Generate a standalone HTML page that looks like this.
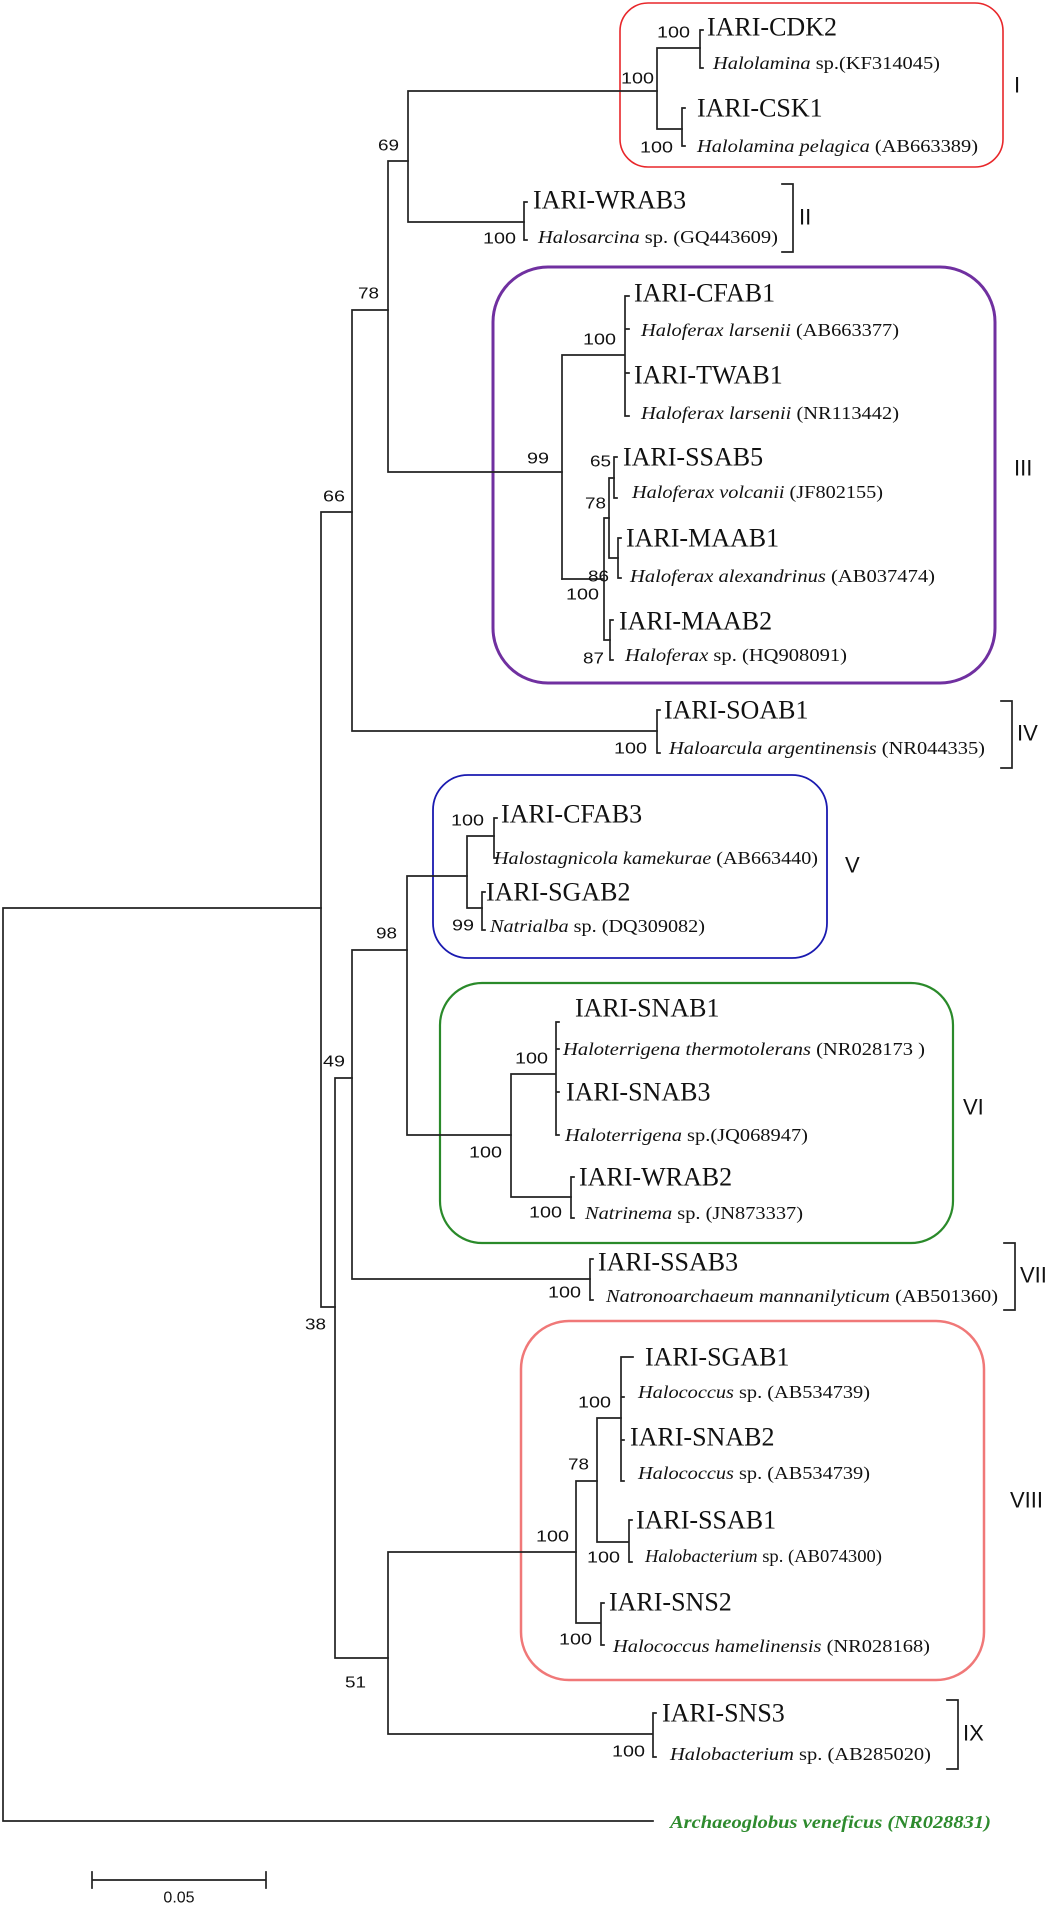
<!DOCTYPE html>
<html><head><meta charset="utf-8"><style>
html,body{margin:0;padding:0;background:#fff;}
svg{display:block;}
.n{font-family:"Liberation Serif",serif;font-size:26px;fill:#111;}
.s{font-family:"Liberation Serif",serif;font-size:18px;fill:#111;}
.b{font-family:"Liberation Sans",sans-serif;font-size:16px;fill:#111;}
.r{font-family:"Liberation Sans",sans-serif;font-size:22px;fill:#111;}
</style></head><body>
<svg width="1050" height="1908" viewBox="0 0 1050 1908" xmlns="http://www.w3.org/2000/svg">
<g fill="none" stroke-linejoin="round">
<rect x="620" y="3" width="383" height="164" rx="28" stroke="#e8262a" stroke-width="1.6"/>
<rect x="493" y="267" width="502" height="416" rx="55" stroke="#7030a0" stroke-width="3"/>
<rect x="433" y="775" width="394" height="183" rx="35" stroke="#1a1ab0" stroke-width="1.8"/>
<rect x="440" y="983" width="513" height="260" rx="42" stroke="#2a8a2a" stroke-width="2.2"/>
<rect x="521" y="1321" width="463" height="359" rx="48" stroke="#f07878" stroke-width="2.5"/>
</g>
<g fill="none" stroke="#222" stroke-width="1.7" stroke-linecap="square">
<path d="M3,908V1821M3,908H321M3,1821H653"/>
<path d="M321,512V1307M321,512H352M321,1307H335"/>
<path d="M352,310V731M352,310H388M352,731H657"/>
<path d="M388,161V472M388,161H408M388,472H562"/>
<path d="M408,91V222M408,91H657M408,222H524"/>
<path d="M657,48V129M657,48H700M657,129H682"/>
<path d="M703,30H700V68H703M685,108H682V146H685M527,202H524V240H527"/>
<path d="M562,355V579M562,355H625M629,296H625V416H629M625,329H629M625,373H629"/>
<path d="M562,579H604M604,518V640M604,518H609M604,640H610"/>
<path d="M609,478V558M609,478H614M609,558H618"/>
<path d="M617,457H614V498H617M621,538H618V578H621M613,620H610V660H613"/>
<path d="M660,710H657V753H660"/>
<path d="M335,1078V1658M335,1078H352M335,1658H388"/>
<path d="M352,950V1279M352,950H407M352,1279H590"/>
<path d="M407,876V1135M407,876H467M407,1135H511"/>
<path d="M467,836V908M467,836H494M467,908H482"/>
<path d="M497,818H494V858H497M485,892H482V930H485"/>
<path d="M511,1074V1197M511,1074H556M559,1022H556V1135H559M556,1049H559M556,1092H559M511,1197H571"/>
<path d="M574,1177H571V1218H574M593,1259H590V1300H593"/>
<path d="M388,1552V1734M388,1552H576M388,1734H653M656,1713H653V1757H656"/>
<path d="M576,1481V1623M576,1481H597M576,1623H601M604,1603H601V1645H604"/>
<path d="M597,1418V1542M597,1418H621M597,1542H629M632,1520H629V1562H632"/>
<path d="M633,1357H621V1481H624M621,1397H624M621,1440H624"/>
<path d="M782,184H793V252H782M1001,701H1012V768H1001M1004,1243H1015V1310H1004M947,1700H958V1769H947"/>
<path d="M92,1880H266M92,1872V1888M266,1872V1888"/>
</g>
<g dominant-baseline="central">
<text class="n" x="707" y="27">IARI-CDK2</text>
<text class="s" x="713" y="63" textLength="227" lengthAdjust="spacingAndGlyphs"><tspan font-style="italic">Halolamina</tspan> sp.(KF314045)</text>
<text class="n" x="697" y="108">IARI-CSK1</text>
<text class="s" x="697" y="146" textLength="281" lengthAdjust="spacingAndGlyphs"><tspan font-style="italic">Halolamina pelagica</tspan> (AB663389)</text>
<text class="n" x="533" y="200">IARI-WRAB3</text>
<text class="s" x="538" y="237" textLength="240" lengthAdjust="spacingAndGlyphs"><tspan font-style="italic">Halosarcina</tspan> sp. (GQ443609)</text>
<text class="n" x="634" y="293">IARI-CFAB1</text>
<text class="s" x="641" y="330" textLength="258" lengthAdjust="spacingAndGlyphs"><tspan font-style="italic">Haloferax larsenii</tspan> (AB663377)</text>
<text class="n" x="634" y="375">IARI-TWAB1</text>
<text class="s" x="641" y="413" textLength="258" lengthAdjust="spacingAndGlyphs"><tspan font-style="italic">Haloferax larsenii</tspan> (NR113442)</text>
<text class="n" x="623" y="457">IARI-SSAB5</text>
<text class="s" x="632" y="492" textLength="251" lengthAdjust="spacingAndGlyphs"><tspan font-style="italic">Haloferax volcanii</tspan> (JF802155)</text>
<text class="n" x="626" y="538">IARI-MAAB1</text>
<text class="s" x="630" y="576" textLength="305" lengthAdjust="spacingAndGlyphs"><tspan font-style="italic">Haloferax alexandrinus</tspan> (AB037474)</text>
<text class="n" x="619" y="621">IARI-MAAB2</text>
<text class="s" x="625" y="655" textLength="222" lengthAdjust="spacingAndGlyphs"><tspan font-style="italic">Haloferax</tspan> sp. (HQ908091)</text>
<text class="n" x="664" y="710">IARI-SOAB1</text>
<text class="s" x="669" y="748" textLength="316" lengthAdjust="spacingAndGlyphs"><tspan font-style="italic">Haloarcula argentinensis</tspan> (NR044335)</text>
<text class="n" x="501" y="814">IARI-CFAB3</text>
<text class="s" x="494" y="858" textLength="324" lengthAdjust="spacingAndGlyphs"><tspan font-style="italic">Halostagnicola kamekurae</tspan> (AB663440)</text>
<text class="n" x="486" y="892">IARI-SGAB2</text>
<text class="s" x="490" y="926" textLength="215" lengthAdjust="spacingAndGlyphs"><tspan font-style="italic">Natrialba</tspan> sp. (DQ309082)</text>
<text class="n" x="575" y="1008">IARI-SNAB1</text>
<text class="s" x="563" y="1049" textLength="362" lengthAdjust="spacingAndGlyphs"><tspan font-style="italic">Haloterrigena thermotolerans</tspan> (NR028173 )</text>
<text class="n" x="566" y="1092">IARI-SNAB3</text>
<text class="s" x="565" y="1135" textLength="243" lengthAdjust="spacingAndGlyphs"><tspan font-style="italic">Haloterrigena</tspan> sp.(JQ068947)</text>
<text class="n" x="579" y="1177">IARI-WRAB2</text>
<text class="s" x="585" y="1213" textLength="218" lengthAdjust="spacingAndGlyphs"><tspan font-style="italic">Natrinema</tspan> sp. (JN873337)</text>
<text class="n" x="598" y="1262">IARI-SSAB3</text>
<text class="s" x="606" y="1296" textLength="392" lengthAdjust="spacingAndGlyphs"><tspan font-style="italic">Natronoarchaeum mannanilyticum</tspan> (AB501360)</text>
<text class="n" x="645" y="1357">IARI-SGAB1</text>
<text class="s" x="638" y="1392" textLength="232" lengthAdjust="spacingAndGlyphs"><tspan font-style="italic">Halococcus</tspan> sp. (AB534739)</text>
<text class="n" x="630" y="1437">IARI-SNAB2</text>
<text class="s" x="638" y="1473" textLength="232" lengthAdjust="spacingAndGlyphs"><tspan font-style="italic">Halococcus</tspan> sp. (AB534739)</text>
<text class="n" x="636" y="1520">IARI-SSAB1</text>
<text class="s" x="645" y="1556" textLength="237" lengthAdjust="spacingAndGlyphs"><tspan font-style="italic">Halobacterium</tspan> sp. (AB074300)</text>
<text class="n" x="609" y="1602">IARI-SNS2</text>
<text class="s" x="613" y="1646" textLength="317" lengthAdjust="spacingAndGlyphs"><tspan font-style="italic">Halococcus hamelinensis</tspan> (NR028168)</text>
<text class="n" x="662" y="1713">IARI-SNS3</text>
<text class="s" x="670" y="1754" textLength="261" lengthAdjust="spacingAndGlyphs"><tspan font-style="italic">Halobacterium</tspan> sp. (AB285020)</text>
<text class="s" x="670" y="1822" textLength="321" lengthAdjust="spacingAndGlyphs" font-weight="bold" font-style="italic" style="fill:#2e8b2e">Archaeoglobus veneficus (NR028831)</text>
</g>
<g dominant-baseline="central" text-anchor="end">
<text class="b" x="399" y="146" textLength="21" lengthAdjust="spacingAndGlyphs">69</text>
<text class="b" x="654" y="79" textLength="33" lengthAdjust="spacingAndGlyphs">100</text>
<text class="b" x="690" y="33" textLength="33" lengthAdjust="spacingAndGlyphs">100</text>
<text class="b" x="673" y="148" textLength="33" lengthAdjust="spacingAndGlyphs">100</text>
<text class="b" x="516" y="239" textLength="33" lengthAdjust="spacingAndGlyphs">100</text>
<text class="b" x="379" y="294" textLength="21" lengthAdjust="spacingAndGlyphs">78</text>
<text class="b" x="345" y="497" textLength="22" lengthAdjust="spacingAndGlyphs">66</text>
<text class="b" x="549" y="459" textLength="22" lengthAdjust="spacingAndGlyphs">99</text>
<text class="b" x="616" y="340" textLength="33" lengthAdjust="spacingAndGlyphs">100</text>
<text class="b" x="611" y="462" textLength="21" lengthAdjust="spacingAndGlyphs">65</text>
<text class="b" x="606" y="504" textLength="21" lengthAdjust="spacingAndGlyphs">78</text>
<text class="b" x="609" y="577" textLength="21" lengthAdjust="spacingAndGlyphs">86</text>
<text class="b" x="599" y="595" textLength="33" lengthAdjust="spacingAndGlyphs">100</text>
<text class="b" x="604" y="659" textLength="21" lengthAdjust="spacingAndGlyphs">87</text>
<text class="b" x="647" y="749" textLength="33" lengthAdjust="spacingAndGlyphs">100</text>
<text class="b" x="484" y="821" textLength="33" lengthAdjust="spacingAndGlyphs">100</text>
<text class="b" x="474" y="926" textLength="22" lengthAdjust="spacingAndGlyphs">99</text>
<text class="b" x="397" y="934" textLength="21" lengthAdjust="spacingAndGlyphs">98</text>
<text class="b" x="345" y="1062" textLength="22" lengthAdjust="spacingAndGlyphs">49</text>
<text class="b" x="548" y="1059" textLength="33" lengthAdjust="spacingAndGlyphs">100</text>
<text class="b" x="502" y="1153" textLength="33" lengthAdjust="spacingAndGlyphs">100</text>
<text class="b" x="562" y="1213" textLength="33" lengthAdjust="spacingAndGlyphs">100</text>
<text class="b" x="581" y="1293" textLength="33" lengthAdjust="spacingAndGlyphs">100</text>
<text class="b" x="326" y="1325" textLength="21" lengthAdjust="spacingAndGlyphs">38</text>
<text class="b" x="611" y="1403" textLength="33" lengthAdjust="spacingAndGlyphs">100</text>
<text class="b" x="589" y="1465" textLength="21" lengthAdjust="spacingAndGlyphs">78</text>
<text class="b" x="569" y="1537" textLength="33" lengthAdjust="spacingAndGlyphs">100</text>
<text class="b" x="620" y="1558" textLength="33" lengthAdjust="spacingAndGlyphs">100</text>
<text class="b" x="592" y="1640" textLength="33" lengthAdjust="spacingAndGlyphs">100</text>
<text class="b" x="366" y="1683" textLength="21" lengthAdjust="spacingAndGlyphs">51</text>
<text class="b" x="645" y="1752" textLength="33" lengthAdjust="spacingAndGlyphs">100</text>
</g>
<g dominant-baseline="central">
<text class="r" x="1014" y="85">I</text>
<text class="r" x="799" y="217">II</text>
<text class="r" x="1014" y="468">III</text>
<text class="r" x="1017" y="733">IV</text>
<text class="r" x="845" y="865">V</text>
<text class="r" x="963" y="1107">VI</text>
<text class="r" x="1020" y="1275">VII</text>
<text class="r" x="1010" y="1500">VIII</text>
<text class="r" x="963" y="1733">IX</text>
<text class="b" x="179" y="1898" text-anchor="middle">0.05</text>
</g>
</svg>
</body></html>
